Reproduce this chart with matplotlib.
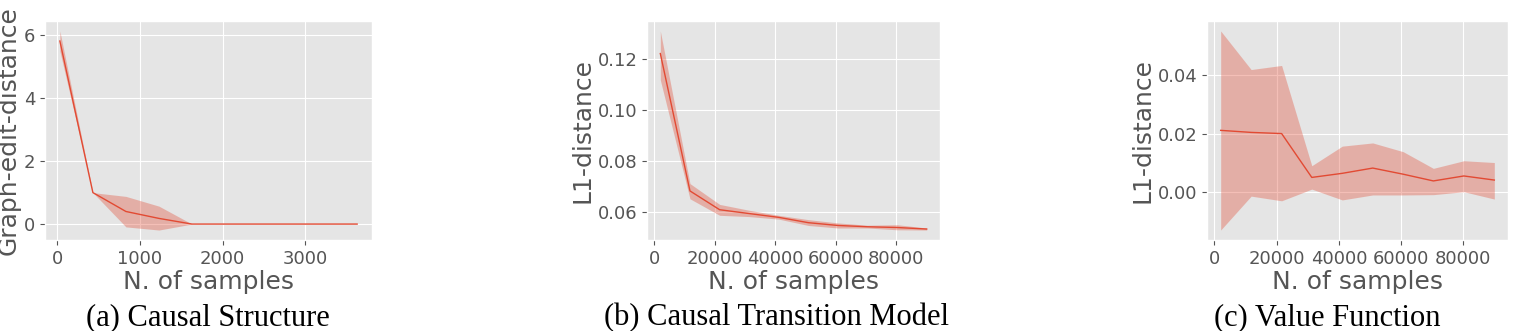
import numpy as np
import matplotlib
matplotlib.use("Agg")
from matplotlib import pyplot as plt

# (a) causal structure
samplesA = [30, 430, 830, 1230, 1630, 2030, 2430, 2830, 3230, 3630]
gedMean = [5.82, 1.0, 0.40, 0.18, 0, 0, 0, 0, 0, 0]
gedLow = [5.50, 1.0, -0.09, -0.19, 0, 0, 0, 0, 0, 0]
gedHigh = [6.14, 1.0, 0.88, 0.57, 0, 0, 0, 0, 0, 0]

# (b) causal transition model
samplesB = [2000, 11800, 21600, 31300, 41100, 50900, 60700, 70400, 80200, 90000]
tmMean = [0.1222, 0.0681, 0.0607, 0.0592, 0.0577, 0.0556, 0.0545, 0.0540, 0.0537, 0.0531]
tmLow = [0.1118, 0.0650, 0.0585, 0.0580, 0.0570, 0.0545, 0.0535, 0.0535, 0.0528, 0.0527]
tmHigh = [0.1311, 0.0710, 0.0628, 0.0605, 0.0585, 0.0568, 0.0555, 0.0546, 0.0548, 0.0535]

# (c) value function
vfMean = [0.0212, 0.0205, 0.0201, 0.0051, 0.0065, 0.0083, 0.0062, 0.0039, 0.0056, 0.0042]
vfLow = [-0.0129, -0.0013, -0.0029, 0.0011, -0.0026, -0.0009, -0.0009, -0.0008, 0.0002, -0.0023]
vfHigh = [0.0552, 0.0420, 0.0434, 0.0091, 0.0158, 0.0169, 0.0139, 0.0082, 0.0108, 0.0102]

captions = ["(a) Causal Structure", "(b) Causal Transition Model", "(c) Value Function"]
yLabels = ["Graph-edit-distance", "L1-distance", "L1-distance"]

plt.style.use("ggplot")
W, H = 1514, 331
fig = plt.figure(figsize=(W / 100, H / 100), dpi=100)

# axes boxes in pixels: left, right, top, bottom
boxes = [(45, 372, 21, 240), (647, 940, 21, 240), (1207, 1508, 21, 240)]
capX = [208, 777, 1327]

panels = [
    (samplesA, gedMean, gedLow, gedHigh, [0, 2, 4, 6], [0, 1000, 2000, 3000], "%d"),
    (samplesB, tmMean, tmLow, tmHigh, [0.06, 0.08, 0.10, 0.12], [0, 20000, 40000, 60000, 80000], "%.2f"),
    (samplesB, vfMean, vfLow, vfHigh, [0.00, 0.02, 0.04], [0, 20000, 40000, 60000, 80000], "%.2f"),
]

for i, (xs, m, lo, hi, yt, xt, fmt) in enumerate(panels):
    l, r, t, b = boxes[i]
    ax = fig.add_axes([l / W, 1 - b / H, (r - l) / W, (b - t) / H])
    ax.fill_between(xs, lo, hi, color="#E24A33", alpha=0.35, linewidth=0)
    ax.plot(xs, m, color="#E24A33", linewidth=1)
    ax.set_yticks(yt)
    ax.set_yticklabels([fmt % v for v in yt])
    ax.set_xticks(xt)
    ax.tick_params(labelsize=13, colors="#555555")
    ax.set_xlabel("N. of samples", fontsize=18, color="#555555", labelpad=2)
    ax.set_ylabel(yLabels[i], fontsize=18, color="#555555", labelpad=2)
    fig.text(capX[i] / W, 1 - 325 / H, captions[i], ha="center", va="baseline",
             fontsize=22, family="Liberation Serif", color="black")

fig.savefig("out.png", dpi=100)
